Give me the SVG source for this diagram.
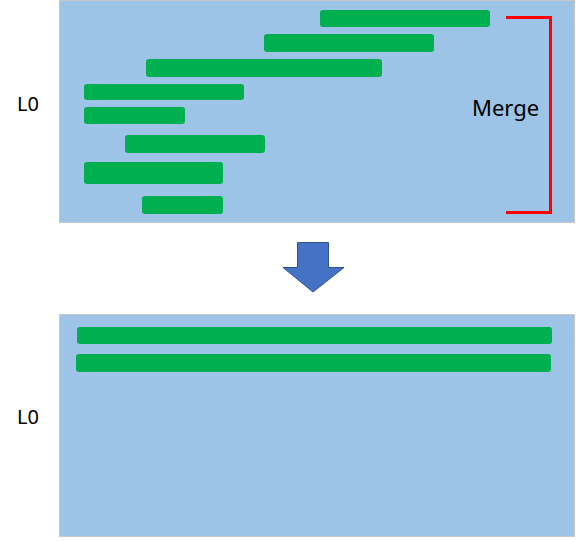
<svg xmlns="http://www.w3.org/2000/svg" width="579" height="541" viewBox="0 0 579 541">
<style>
.panel{fill:#9DC3E6;stroke:#C8C8C8;stroke-width:1}
.bar{fill:#00B050}
.lbl{font-family:"Noto Sans","Liberation Sans",sans-serif;font-size:20px;fill:#000}
.merge{font-family:"Noto Sans","Liberation Sans",sans-serif;font-size:22px;fill:#000}
.bracket{fill:none;stroke:#FF0000;stroke-width:3}
.arrow{fill:#4472C4;stroke:#2F528F;stroke-width:1}
</style>
<rect width="579" height="541" fill="#FFFFFF"/>
<g id="top-level">
<rect class="panel" x="59.5" y="0.5" width="515" height="222"/>
<text class="lbl" x="17" y="111">L0</text>
<rect class="bar" x="320" y="10" width="170" height="17" rx="3"/>
<rect class="bar" x="264" y="34" width="170" height="18" rx="3"/>
<rect class="bar" x="146" y="59" width="236" height="18" rx="3"/>
<rect class="bar" x="84" y="84" width="160" height="16" rx="3"/>
<rect class="bar" x="84" y="107" width="101" height="17" rx="3"/>
<rect class="bar" x="125" y="135" width="140" height="18" rx="3"/>
<rect class="bar" x="84" y="162" width="139" height="22" rx="3"/>
<rect class="bar" x="142" y="196" width="81" height="18" rx="3"/>
</g>
<g id="merge-bracket">
<path class="bracket" d="M506,17.5 H550.5 V212.5 H506"/>
<text class="merge" x="472" y="116">Merge</text>
</g>
<g id="connectors">
<path class="arrow" d="M297.5,242.5 H328.5 V267.5 H344 L313,292 L283,267.5 H297.5 Z"/>
</g>
<g id="bottom-level">
<rect class="panel" x="59.5" y="314.5" width="515" height="222"/>
<text class="lbl" x="17" y="424">L0</text>
<rect class="bar" x="77" y="327" width="475" height="17" rx="3"/>
<rect class="bar" x="76" y="354" width="475" height="18" rx="3"/>
</g>
</svg>
